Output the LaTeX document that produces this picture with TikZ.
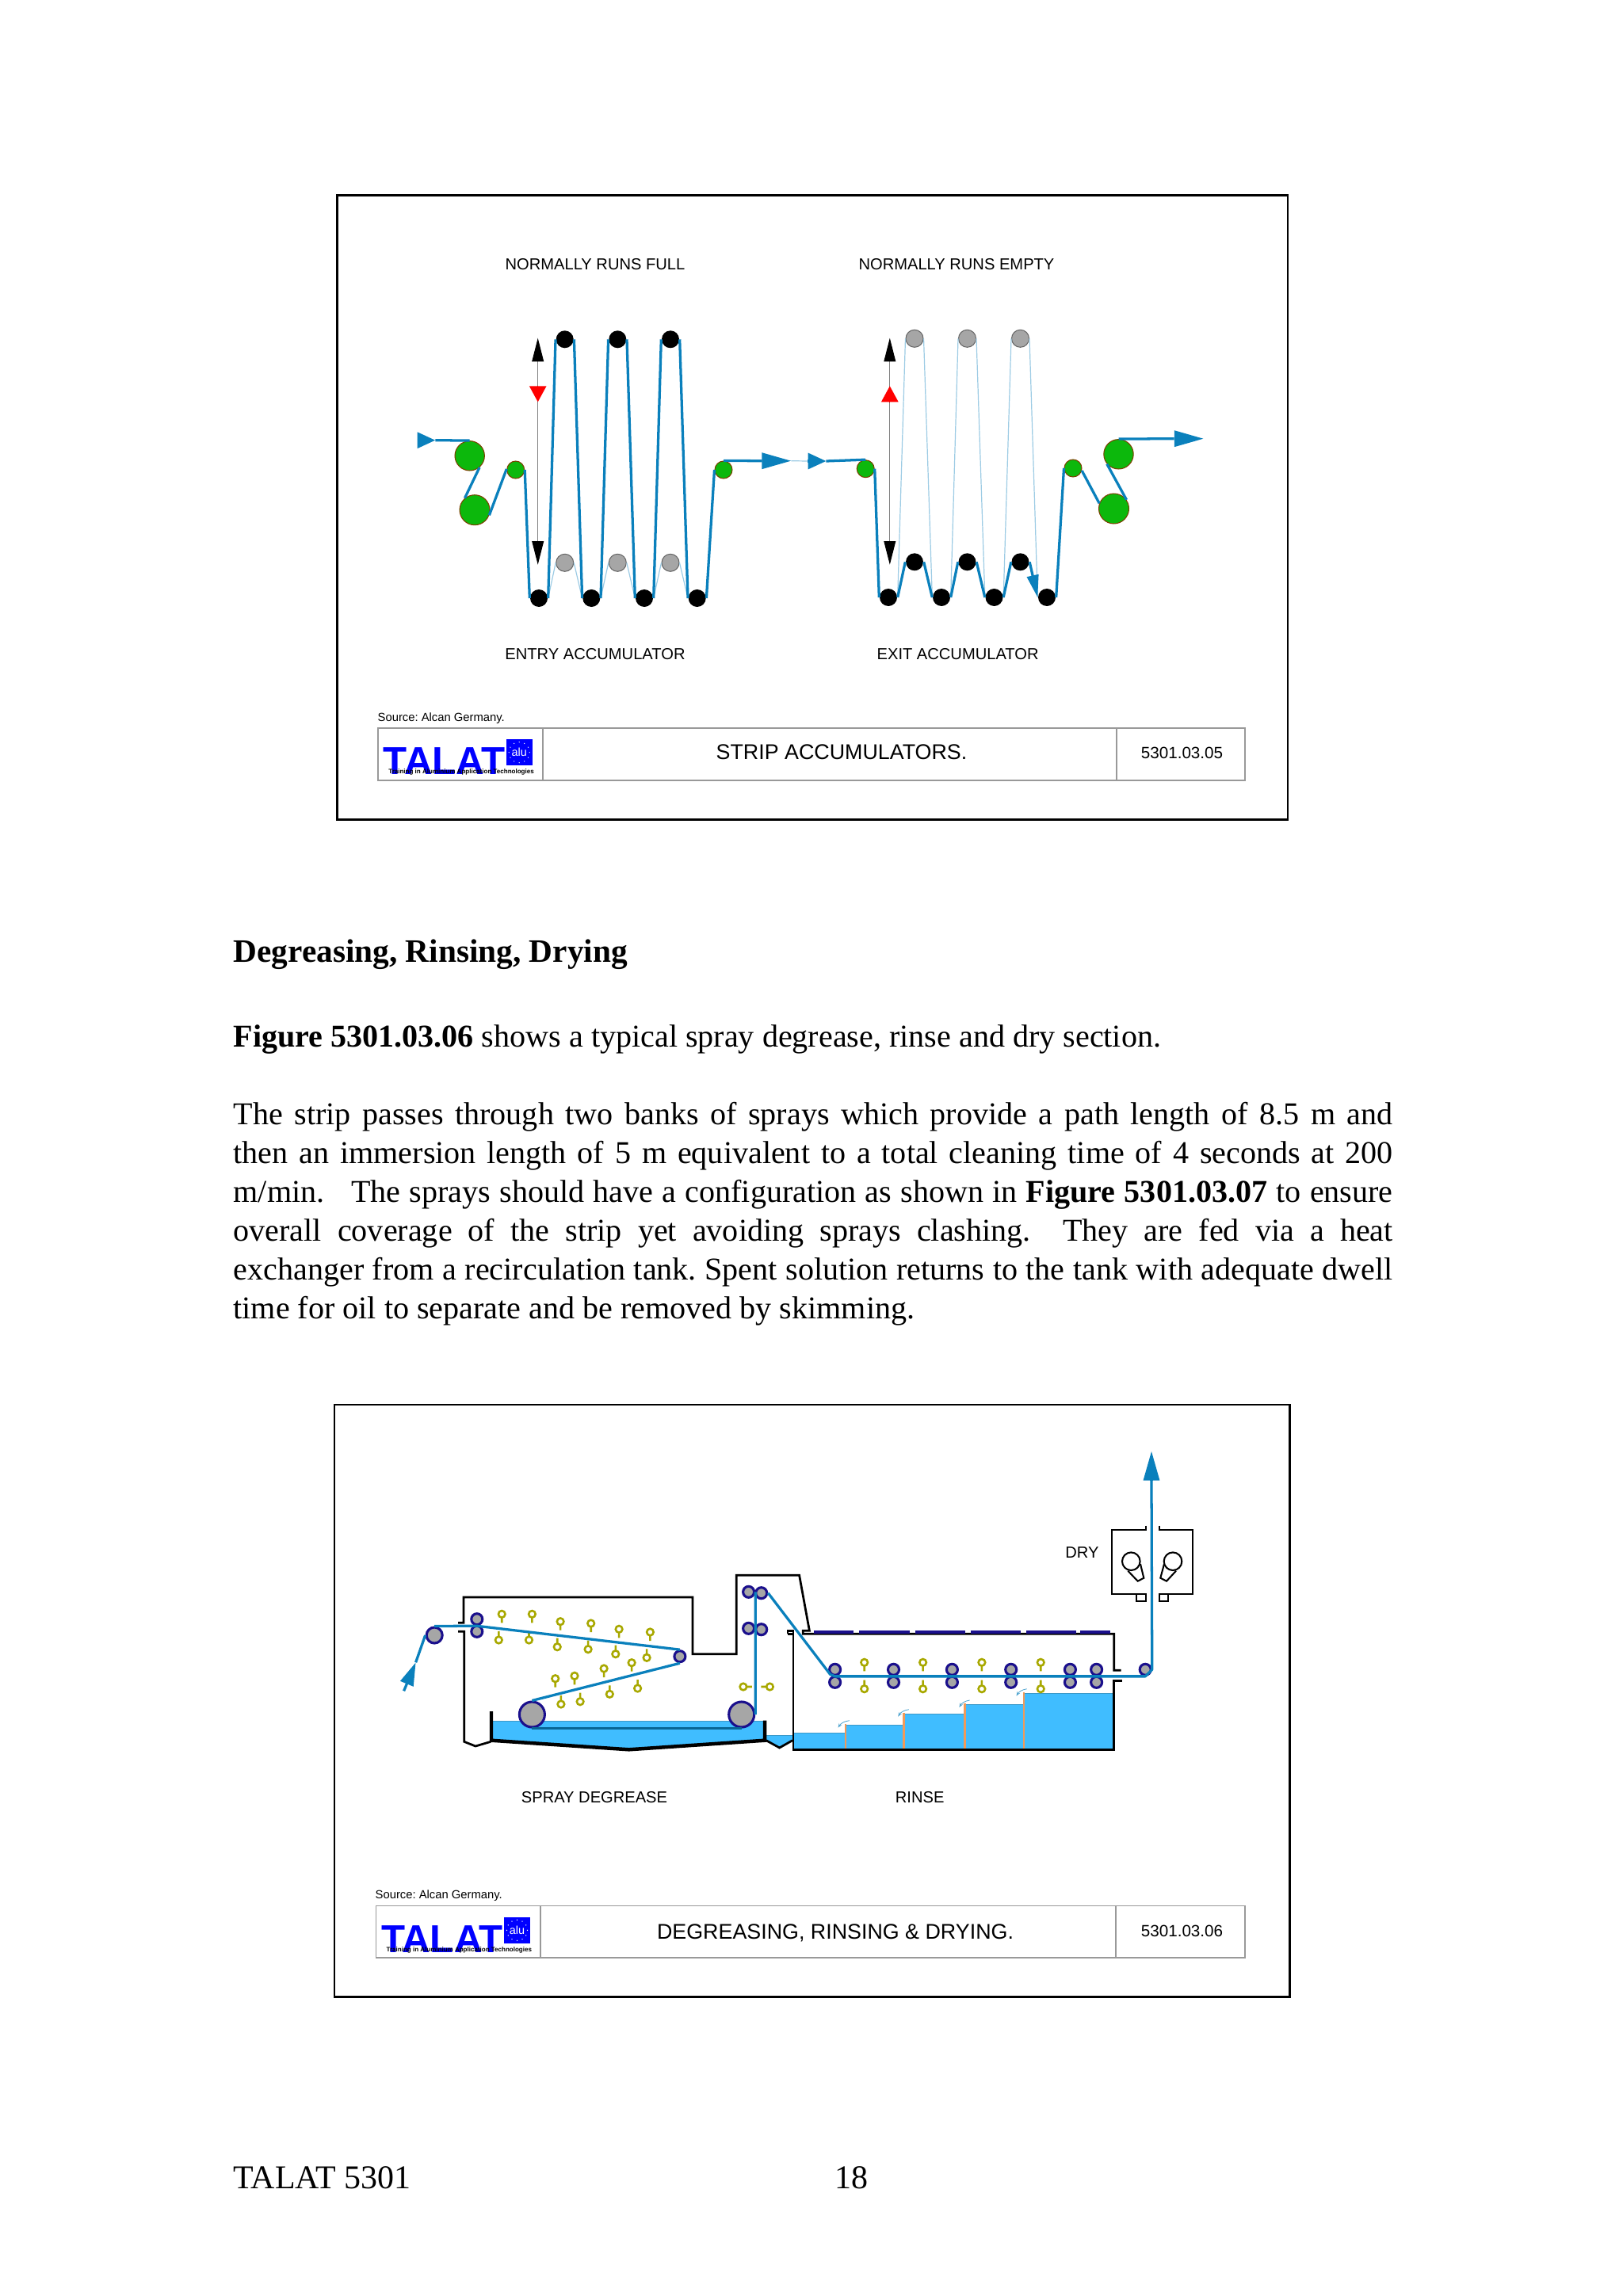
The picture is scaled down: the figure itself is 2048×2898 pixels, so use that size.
\documentclass[tikz,border=0pt]{standalone}
\usepackage{fontspec}
\setmainfont{Liberation Serif}
\setsansfont{Liberation Sans}
\usepackage{tikz}
\usetikzlibrary{arrows.meta, positioning}

\definecolor{stripblue}{HTML}{0A80BC}
\definecolor{lightstrip}{HTML}{9CCBE4}
\definecolor{bathblue}{HTML}{40BDFF}
\definecolor{rimnavy}{HTML}{1A0F8C}
\definecolor{rollgrey}{HTML}{A6A6A6}
\definecolor{rollgreen}{HTML}{0CB80C}
\definecolor{sprayolive}{HTML}{A8A800}
\definecolor{weirorange}{HTML}{F09A5A}
\definecolor{blockgrey}{HTML}{999999}

\begin{document}
\frenchspacing
\begin{tikzpicture}[
  x=0.2906pt, y=-0.2906pt,
  blackroll/.style={circle, fill=black, inner sep=0pt, minimum size=22*0.2906pt},
  greyroll/.style={circle, draw=black!60, line width=0.3pt, fill=rollgrey, inner sep=0pt, minimum size=22*0.2906pt},
  greenroll/.style={circle, draw=black!30!orange!70!black, line width=0.3pt, fill=rollgreen, inner sep=0pt, minimum size=#1*0.2906pt},
  navyroll/.style={circle, draw=rimnavy, line width=0.9pt, fill=rollgrey, inner sep=0pt, minimum size=#1*0.2906pt},
  strip/.style={draw=stripblue, line width=0.95pt, line join=round},
  faint/.style={draw=lightstrip, line width=0.35pt},
  arrsmall/.style={strip, -{Triangle[length=6.6pt, width=5.8pt]}},
  arrlong/.style={strip, -{Triangle[length=10.7pt, width=5.8pt]}},
  travel/.style={draw=black!50, line width=0.3pt, {Triangle[length=8.6pt, width=4.3pt, black]}-{Triangle[length=8.6pt, width=4.3pt, black]}},
  redhead/.style={draw=red, line width=0pt, -{Triangle[length=5.8pt, width=6.3pt, red]}},
  housing/.style={draw=black, line width=0.8pt, line join=miter},
  lamp/.style={draw=black, line width=0.6pt},
  weir/.style={draw=weirorange, line width=0.7pt},
  spill/.style={draw=stripblue!70, line width=0.25pt, -{Stealth[length=1.6pt]}},
  lbl/.style={font=\fontsize{5.85}{7}\sffamily, inner sep=0pt},
  srclbl/.style={font=\fontsize{4.3}{5}\sffamily, inner sep=0pt, anchor=west},
  titlelbl/.style={font=\fontsize{7.8}{9}\sffamily, inner sep=0pt},
  numlbl/.style={font=\fontsize{6}{7}\sffamily, inner sep=0pt},
  headtxt/.style={font=\fontsize{12}{14}\selectfont\bfseries, inner sep=0pt},
  bodytxt/.style={font=\fontsize{11.65}{14.2}\selectfont, inner sep=0pt},
  foottxt/.style={font=\fontsize{12.2}{14}\selectfont, inner sep=0pt},
  framebox/.style={draw=black, line width=0.75pt},
  blockbox/.style={draw=blockgrey, line width=0.4pt},
  nozzle/.pic={\draw[draw=sprayolive, line width=0.75pt] (0,0) circle[radius=4.3] (0,4.3) -- (0,11);},
  talat/.pic={
    \node[fill=blue, text=white, inner sep=0pt, minimum size=33*0.2906pt, font=\fontsize{4.2}{5}\sffamily] (flag) at (178.2,30.7) {alu};
    \foreach \ang in {0,30,...,330}
      \fill[white] (178.2,30.7) ++(\ang:13) circle[radius=0.7];
    \node[text=blue, inner sep=0pt, font=\fontsize{14.3}{15}\sffamily\bfseries] (word) at (83.7,41.6) {TALAT};
    \node[inner sep=0pt, font=\fontsize{2.33}{3}\sffamily\bfseries] (motto) at (105,55.3) {Training in Aluminium Application Technologies};
  },
]
\useasboundingbox (0,0) rectangle (2048,2898);

% upper figure frame and title block
\draw[framebox] (425.5,246.5) rectangle (1625,1034.5);
\draw[blockbox] (477,919) rectangle (1571,985);
\draw[blockbox] (685,919) -- (685,985);
\draw[blockbox] (1409,919) -- (1409,985);
\pic (logoa) at (477,919) {talat};
\node[srclbl] (srca) at (476,906.5) {Source: Alcan Germany.};
\node[titlelbl] (titlea) at (1062,949.5) {STRIP ACCUMULATORS.};
\node[numlbl] (numa) at (1491.5,950.5) {5301.03.05};

\node[lbl] (fulllbl)  at (751,333.5)   {NORMALLY RUNS FULL};
\node[lbl] (emptylbl) at (1207,333.5)  {NORMALLY RUNS EMPTY};
\node[lbl] (entrylbl) at (751,825.5) {ENTRY ACCUMULATOR};
\node[lbl] (exitlbl)  at (1208.6,825.5) {EXIT ACCUMULATOR};

% entry accumulator
\node[blackroll] (et1) at (712.7,428.3) {};
\node[blackroll] (et2) at (779.3,428.3) {};
\node[blackroll] (et3) at (846,428.3) {};
\node[greyroll]  (em1) at (712.7,710.3) {};
\node[greyroll]  (em2) at (779.3,710.3) {};
\node[greyroll]  (em3) at (846,710.3) {};
\node[blackroll] (eb1) at (680,755) {};
\node[blackroll] (eb2) at (746.3,755) {};
\node[blackroll] (eb3) at (813,755) {};
\node[blackroll] (eb4) at (879.7,755) {};
\node[greenroll=37.4] (eg1) at (592.7,575.3) {};
\node[greenroll=38]   (eg2) at (599,643.7) {};
\node[greenroll=22]   (eg3) at (650.7,593) {};
\node[greenroll=22]   (eg4) at (913,593) {};
\coordinate (ein) at (526.7,555.7);
\coordinate (einb) at (549.3,555.7);
\coordinate (eoutb) at (961.7,581.7);
\coordinate (eout) at (998.3,581.7);
\coordinate (etop) at (678.7,426.7);
\coordinate (ebot) at (678.7,712.7);
\coordinate (eredt) at (678.7,487.3);
\coordinate (eredb) at (678.7,507.3);

\draw[faint] (eb1.east) -- (em1.west);
\draw[faint] (em1.east) -- (eb2.west);
\draw[faint] (eb2.east) -- (em2.west);
\draw[faint] (em2.east) -- (eb3.west);
\draw[faint] (eb3.east) -- (em3.west);
\draw[faint] (em3.east) -- (eb4.west);
\draw[arrsmall] (ein) -- (einb);
\draw[strip] (einb) -- (eg1.north);
\draw[strip] (eg1.-50) -- (eg2.130);
\draw[strip] (eg2.-20) -- (eg3.175);
\draw[strip] (eg3.east) -- (eb1.west);
\draw[strip] (eb1.east) -- (et1.west);
\draw[strip] (et1.east) -- (eb2.west);
\draw[strip] (eb2.east) -- (et2.west);
\draw[strip] (et2.east) -- (eb3.west);
\draw[strip] (eb3.east) -- (et3.west);
\draw[strip] (et3.east) -- (eb4.west);
\draw[strip] (eb4.east) -- (eg4.west);
\draw[strip] (eg4.north) -- (eoutb);
\draw[arrlong] (eoutb) -- (eout);
\draw[travel] (etop) -- (ebot);
\draw[redhead] (eredt) -- (eredb);

% exit accumulator
\node[greyroll]  (xt1) at (1154,427.3) {};
\node[greyroll]  (xt2) at (1220.5,427.3) {};
\node[greyroll]  (xt3) at (1287.5,427.3) {};
\node[blackroll] (xm1) at (1154,709.3) {};
\node[blackroll] (xm2) at (1220.5,709.3) {};
\node[blackroll] (xm3) at (1287.5,709.3) {};
\node[blackroll] (xb1) at (1121,754) {};
\node[blackroll] (xb2) at (1188,754) {};
\node[blackroll] (xb3) at (1254.5,754) {};
\node[blackroll] (xb4) at (1321,754) {};
\node[greenroll=22]   (xg1) at (1092.2,591.7) {};
\node[greenroll=22]   (xg2) at (1354,591) {};
\node[greenroll=37.4] (xg3) at (1411.5,573.3) {};
\node[greenroll=38]   (xg4) at (1405.5,642) {};
\coordinate (xin) at (1018.7,582);
\coordinate (xinb) at (1042.4,582);
\coordinate (xoutb) at (1481.7,553.7);
\coordinate (xout) at (1518.7,553.7);
\coordinate (xtop) at (1122.8,426.7);
\coordinate (xbot) at (1122.8,712.7);
\coordinate (xredt) at (1122.8,507.7);
\coordinate (xredb) at (1122.8,487.3);

\draw[faint] (eout) -- (xin);
\draw[faint] (xb1.east) -- (xt1.west);
\draw[faint] (xt1.east) -- (xb2.west);
\draw[faint] (xb2.east) -- (xt2.west);
\draw[faint] (xt2.east) -- (xb3.west);
\draw[faint] (xb3.east) -- (xt3.west);
\draw[faint] (xt3.east) -- (xb4.west);
\draw[arrsmall] (xin) -- (xinb);
\draw[strip] (xinb) -- (xg1.north);
\draw[strip] (xg1.east) -- (xb1.west);
\draw[strip] (xb1.east) -- (xm1.west);
\draw[strip] (xm1.east) -- (xb2.west);
\draw[strip] (xb2.east) -- (xm2.west);
\draw[strip] (xm2.east) -- (xb3.west);
\draw[strip] (xb3.east) -- (xm3.west);
\draw[strip, -{Triangle[length=8.2pt, width=4.2pt]}] (xm3.east) -- (xb4.west);
\draw[strip] (xb4.east) -- (xg2.west);
\draw[strip] (xg2.-15) -- (xg4.160);
\draw[strip] (xg4.35) -- (xg3.-140);
\draw[strip] (xg3.north) -- (xoutb);
\draw[arrlong] (xoutb) -- (xout);
\draw[travel] (xtop) -- (xbot);
\draw[redhead] (xredt) -- (xredb);

% page text
\node[headtxt, anchor=base west] (headline) at (294,1214.5) {Degreasing, Rinsing, Drying};
\node[bodytxt, anchor=base west] (leadline) at (294,1321.5) {\textbf{Figure 5301.03.06} shows a typical spray degrease, rinse and dry section.};
\node[bodytxt, anchor=north west, text width=425.15pt, align=justify] (para) at (294,1391) {The strip passes through two banks of sprays which provide a path length of 8.5 m and\linebreak
then an immersion length of 5 m equivalent to a total cleaning time of 4 seconds at 200\linebreak
m/min.~~ The sprays should have a configuration as shown in \textbf{Figure 5301.03.07} to ensure\linebreak
overall coverage of the strip yet avoiding sprays clashing.~ They are fed via a heat\linebreak
exchanger from a recirculation tank. Spent solution returns to the tank with adequate dwell\linebreak
time for oil to separate and be removed by skimming.};
\node[foottxt, anchor=base west] (footl) at (294,2762) {TALAT 5301};
\node[foottxt, anchor=base] (footn) at (1074,2762) {18};

% lower figure frame and title block
\draw[framebox] (422,1773) rectangle (1627.5,2520.5);
\draw[blockbox] (474.3,2405.7) rectangle (1571,2471);
\draw[blockbox] (682,2405.7) -- (682,2471);
\draw[blockbox] (1408,2405.7) -- (1408,2471);
\pic (logob) at (474.3,2405.7) {talat};
\node[srclbl] (srcb) at (473,2392.5) {Source: Alcan Germany.};
\node[titlelbl] (titleb) at (1054,2439.5) {DEGREASING, RINSING \& DRYING.};
\node[numlbl] (numb) at (1491.5,2437.5) {5301.03.06};

\node[lbl] (spraylbl) at (750,2268.5)  {SPRAY DEGREASE};
\node[lbl] (rinselbl) at (1160.7,2268.5) {RINSE};
\node[lbl] (drylbl)   at (1365.4,1960) {DRY};

% baths
\fill[bathblue] (620,2172.3) -- (965,2172.3) -- (965,2196.7) -- (793.6,2208.3) -- (620,2196.7) -- cycle;
\fill[bathblue] (966.8,2190) -- (1001,2190) -- (1001,2196.7) -- (983.6,2206) -- (966.8,2196.7) -- cycle;
\fill[bathblue] (1001,2187.3) -- (1067.1,2187.3) -- (1067.1,2177.3) -- (1140.4,2177.3) -- (1140.4,2163) -- (1217.5,2163) -- (1217.5,2151.7) -- (1292,2151.7) -- (1292,2137.3) -- (1405.7,2137.3) -- (1405.7,2208.3) -- (1001,2208.3) -- cycle;
\draw[draw=stripblue!80, line width=0.3pt] (620,2172.3) -- (965,2172.3);
\draw[draw=stripblue!80, line width=0.3pt] (966.8,2190) -- (1001,2190);
\draw[draw=stripblue!80, line width=0.3pt] (1001,2187.3) -- (1067.1,2187.3) (1067.1,2177.3) -- (1140.4,2177.3) (1140.4,2163) -- (1217.5,2163) (1217.5,2151.7) -- (1292,2151.7) (1292,2137.3) -- (1405.7,2137.3);
\draw[weir] (1067.1,2176) -- (1067.1,2208);
\draw[weir] (1140.4,2161.7) -- (1140.4,2208);
\draw[weir] (1217.5,2150) -- (1217.5,2208);
\draw[weir] (1292,2136) -- (1292,2208);
\draw[spill] (1071.8,2171.7) to[bend right=25] (1057.5,2180.7);
\draw[spill] (1146.8,2157.7) to[bend right=25] (1133.2,2166.7);
\draw[spill] (1223.6,2146) to[bend right=25] (1210.4,2155);
\draw[spill] (1295.7,2131.7) to[bend right=25] (1282.5,2140.7);

% housing
\draw[housing] (578.2,2048.3) -- (585,2048.3) -- (585,2016) -- (873.9,2016) -- (873.9,2087.7) -- (929.3,2087.7) -- (929.3,1988.3) -- (1008.6,1988.3) -- (1021.4,2058.3) -- (1013.2,2058.3) -- (1013.2,2062.3) -- (1405.7,2062.3) -- (1405.7,2108.3) -- (1414.6,2108.3);
\draw[housing] (578.2,2059.3) -- (585.7,2059.3) -- (585.7,2198.3) -- (600,2204) -- (619.3,2198.3);
\draw[housing, line width=1.3pt] (620,2160) -- (620,2196.7) -- (793.6,2208.3) -- (965,2196.7) -- (965,2171.7);
\draw[housing] (966.8,2196.7) -- (983.6,2206) -- (1000,2196.7);
\draw[housing] (994,2062.3) -- (994,2058.3) -- (1001,2058.3) -- (1001,2208.3) -- (1405.7,2208.3) -- (1405.7,2121.7) -- (1415.7,2121.7);
\draw[housing] (994,2062.3) -- (1001,2062.3);
\draw[draw=rimnavy, line width=1.2pt] (1027.1,2059.7) -- (1077.1,2059.7);
\draw[draw=rimnavy, line width=1.2pt] (1084.3,2059.7) -- (1147.5,2059.7);
\draw[draw=rimnavy, line width=1.2pt] (1154.6,2059.7) -- (1217.5,2059.7);
\draw[draw=rimnavy, line width=1.2pt] (1224.6,2059.7) -- (1287.9,2059.7);
\draw[draw=rimnavy, line width=1.2pt] (1295,2059.7) -- (1357.5,2059.7);
\draw[draw=rimnavy, line width=1.2pt] (1362.9,2059.7) -- (1401,2059.7);

% dryer
\draw[housing, line width=0.6pt] (1445.7,1925.7) -- (1445.7,1931.3) -- (1403.3,1931.3) -- (1403.3,2012.3) -- (1445.7,2012.3) -- (1445.7,2021) -- (1434.3,2021) -- (1434.3,2012.3);
\draw[housing, line width=0.6pt] (1463.3,1925.7) -- (1463.3,1931.3) -- (1505,1931.3) -- (1505,2012.3) -- (1463.3,2012.3) -- (1463.3,2021) -- (1474,2021) -- (1474,2012.3);
\draw[lamp] (1427.3,1970.7) circle[radius=11.3];
\draw[lamp] (1439,1974) -- (1443.3,1991.7) -- (1435.7,1995.7) -- (1423.3,1982.7);
\draw[lamp] (1480,1970.7) circle[radius=11.3];
\draw[lamp] (1469,1974) -- (1464.3,1991.7) -- (1472,1995.7) -- (1484,1982.7);

% sprays degrease
\pic at (633.2,2037.3) {nozzle};
\pic at (671.4,2037.3) {nozzle};
\pic at (707.1,2046.7) {nozzle};
\pic at (745.7,2049) {nozzle};
\pic at (781.1,2056.3) {nozzle};
\pic at (820.4,2060) {nozzle};
\pic at (700.7,2118.7) {nozzle};
\pic at (725,2115.3) {nozzle};
\pic at (762.1,2106) {nozzle};
\pic at (797.1,2098.7) {nozzle};
\pic[rotate=180] at (629.3,2070) {nozzle};
\pic[rotate=180] at (667.5,2070) {nozzle};
\pic[rotate=180] at (703.2,2078.7) {nozzle};
\pic[rotate=180] at (742.1,2081.7) {nozzle};
\pic[rotate=180] at (776.8,2087.7) {nozzle};
\pic[rotate=180] at (816.1,2092.3) {nozzle};
\pic[rotate=180] at (707.9,2151) {nozzle};
\pic[rotate=180] at (732.1,2147.7) {nozzle};
\pic[rotate=180] at (769.3,2138.3) {nozzle};
\pic[rotate=180] at (804.6,2131) {nozzle};
\pic[rotate=90] at (937.9,2129) {nozzle};
\pic[rotate=-90] at (971.4,2129) {nozzle};

% sprays rinse
\pic at (1090.7,2098.3) {nozzle};
\pic at (1164.6,2098.3) {nozzle};
\pic at (1238.9,2098.3) {nozzle};
\pic at (1313.2,2098.3) {nozzle};
\pic[rotate=180] at (1090.7,2131.7) {nozzle};
\pic[rotate=180] at (1164.6,2131.7) {nozzle};
\pic[rotate=180] at (1238.9,2131.7) {nozzle};
\pic[rotate=180] at (1313.2,2131.7) {nozzle};

% rollers
\node[navyroll=20] (din)   at (548.2,2064) {};
\node[navyroll=14] (dnipt) at (601.8,2043.7) {};
\node[navyroll=14] (dnipb) at (601.8,2059.3) {};
\node[navyroll=14] (dturn) at (857.9,2090.7) {};
\node[navyroll=32] (dbigl) at (671.4,2164) {};
\node[navyroll=32] (dbigr) at (935.7,2164) {};
\node[navyroll=14] (up1)   at (944.6,2009.3) {};
\node[navyroll=14] (up2)   at (960.7,2010.7) {};
\node[navyroll=14] (up3)   at (944.6,2055.3) {};
\node[navyroll=14] (up4)   at (960.7,2056.7) {};
\node[navyroll=14] (rt1) at (1053.6,2107.3) {};
\node[navyroll=14] (rb1) at (1053.6,2123.3) {};
\node[navyroll=14] (rt2) at (1127.5,2107.3) {};
\node[navyroll=14] (rb2) at (1127.5,2123.3) {};
\node[navyroll=14] (rt3) at (1201.4,2107.3) {};
\node[navyroll=14] (rb3) at (1201.4,2123.3) {};
\node[navyroll=14] (rt4) at (1275.7,2107.3) {};
\node[navyroll=14] (rb4) at (1275.7,2123.3) {};
\node[navyroll=14] (rt5) at (1350.4,2107.3) {};
\node[navyroll=14] (rb5) at (1350.4,2123.3) {};
\node[navyroll=14] (rt6) at (1383.6,2107.3) {};
\node[navyroll=14] (rb6) at (1383.6,2123.3) {};
\node[navyroll=14] (dryroll) at (1445.2,2107.3) {};
\coordinate (dtail) at (509.6,2134.3);
\coordinate (dhead) at (524.6,2098.3);
\coordinate (drya) at (1453,1868.3);
\coordinate (dryb) at (1453,1831.7);

% strip path
\draw[strip, -{Triangle[length=8.5pt, width=5pt]}] (dtail) -- (dhead);
\draw[strip] (dhead) -- (din.west);
\draw[strip] (din.north) -- (dnipt.south) -- (dturn.north);
\draw[strip] (dturn.south) -- (dbigl.north);
\draw[strip, draw=stripblue!80!black] (dbigl.south) -- (dbigr.south);
\draw[strip] (dbigr.east) -- (up1.east);
\draw[strip] (up2.east) -- (rt1.south west) -- (rt1.south) -- (dryroll.south) -- (dryroll.east) -- (drya);
\draw[strip, -{Triangle[length=10.7pt, width=5.8pt]}] (drya) -- (dryb);
\end{tikzpicture}
\end{document}
